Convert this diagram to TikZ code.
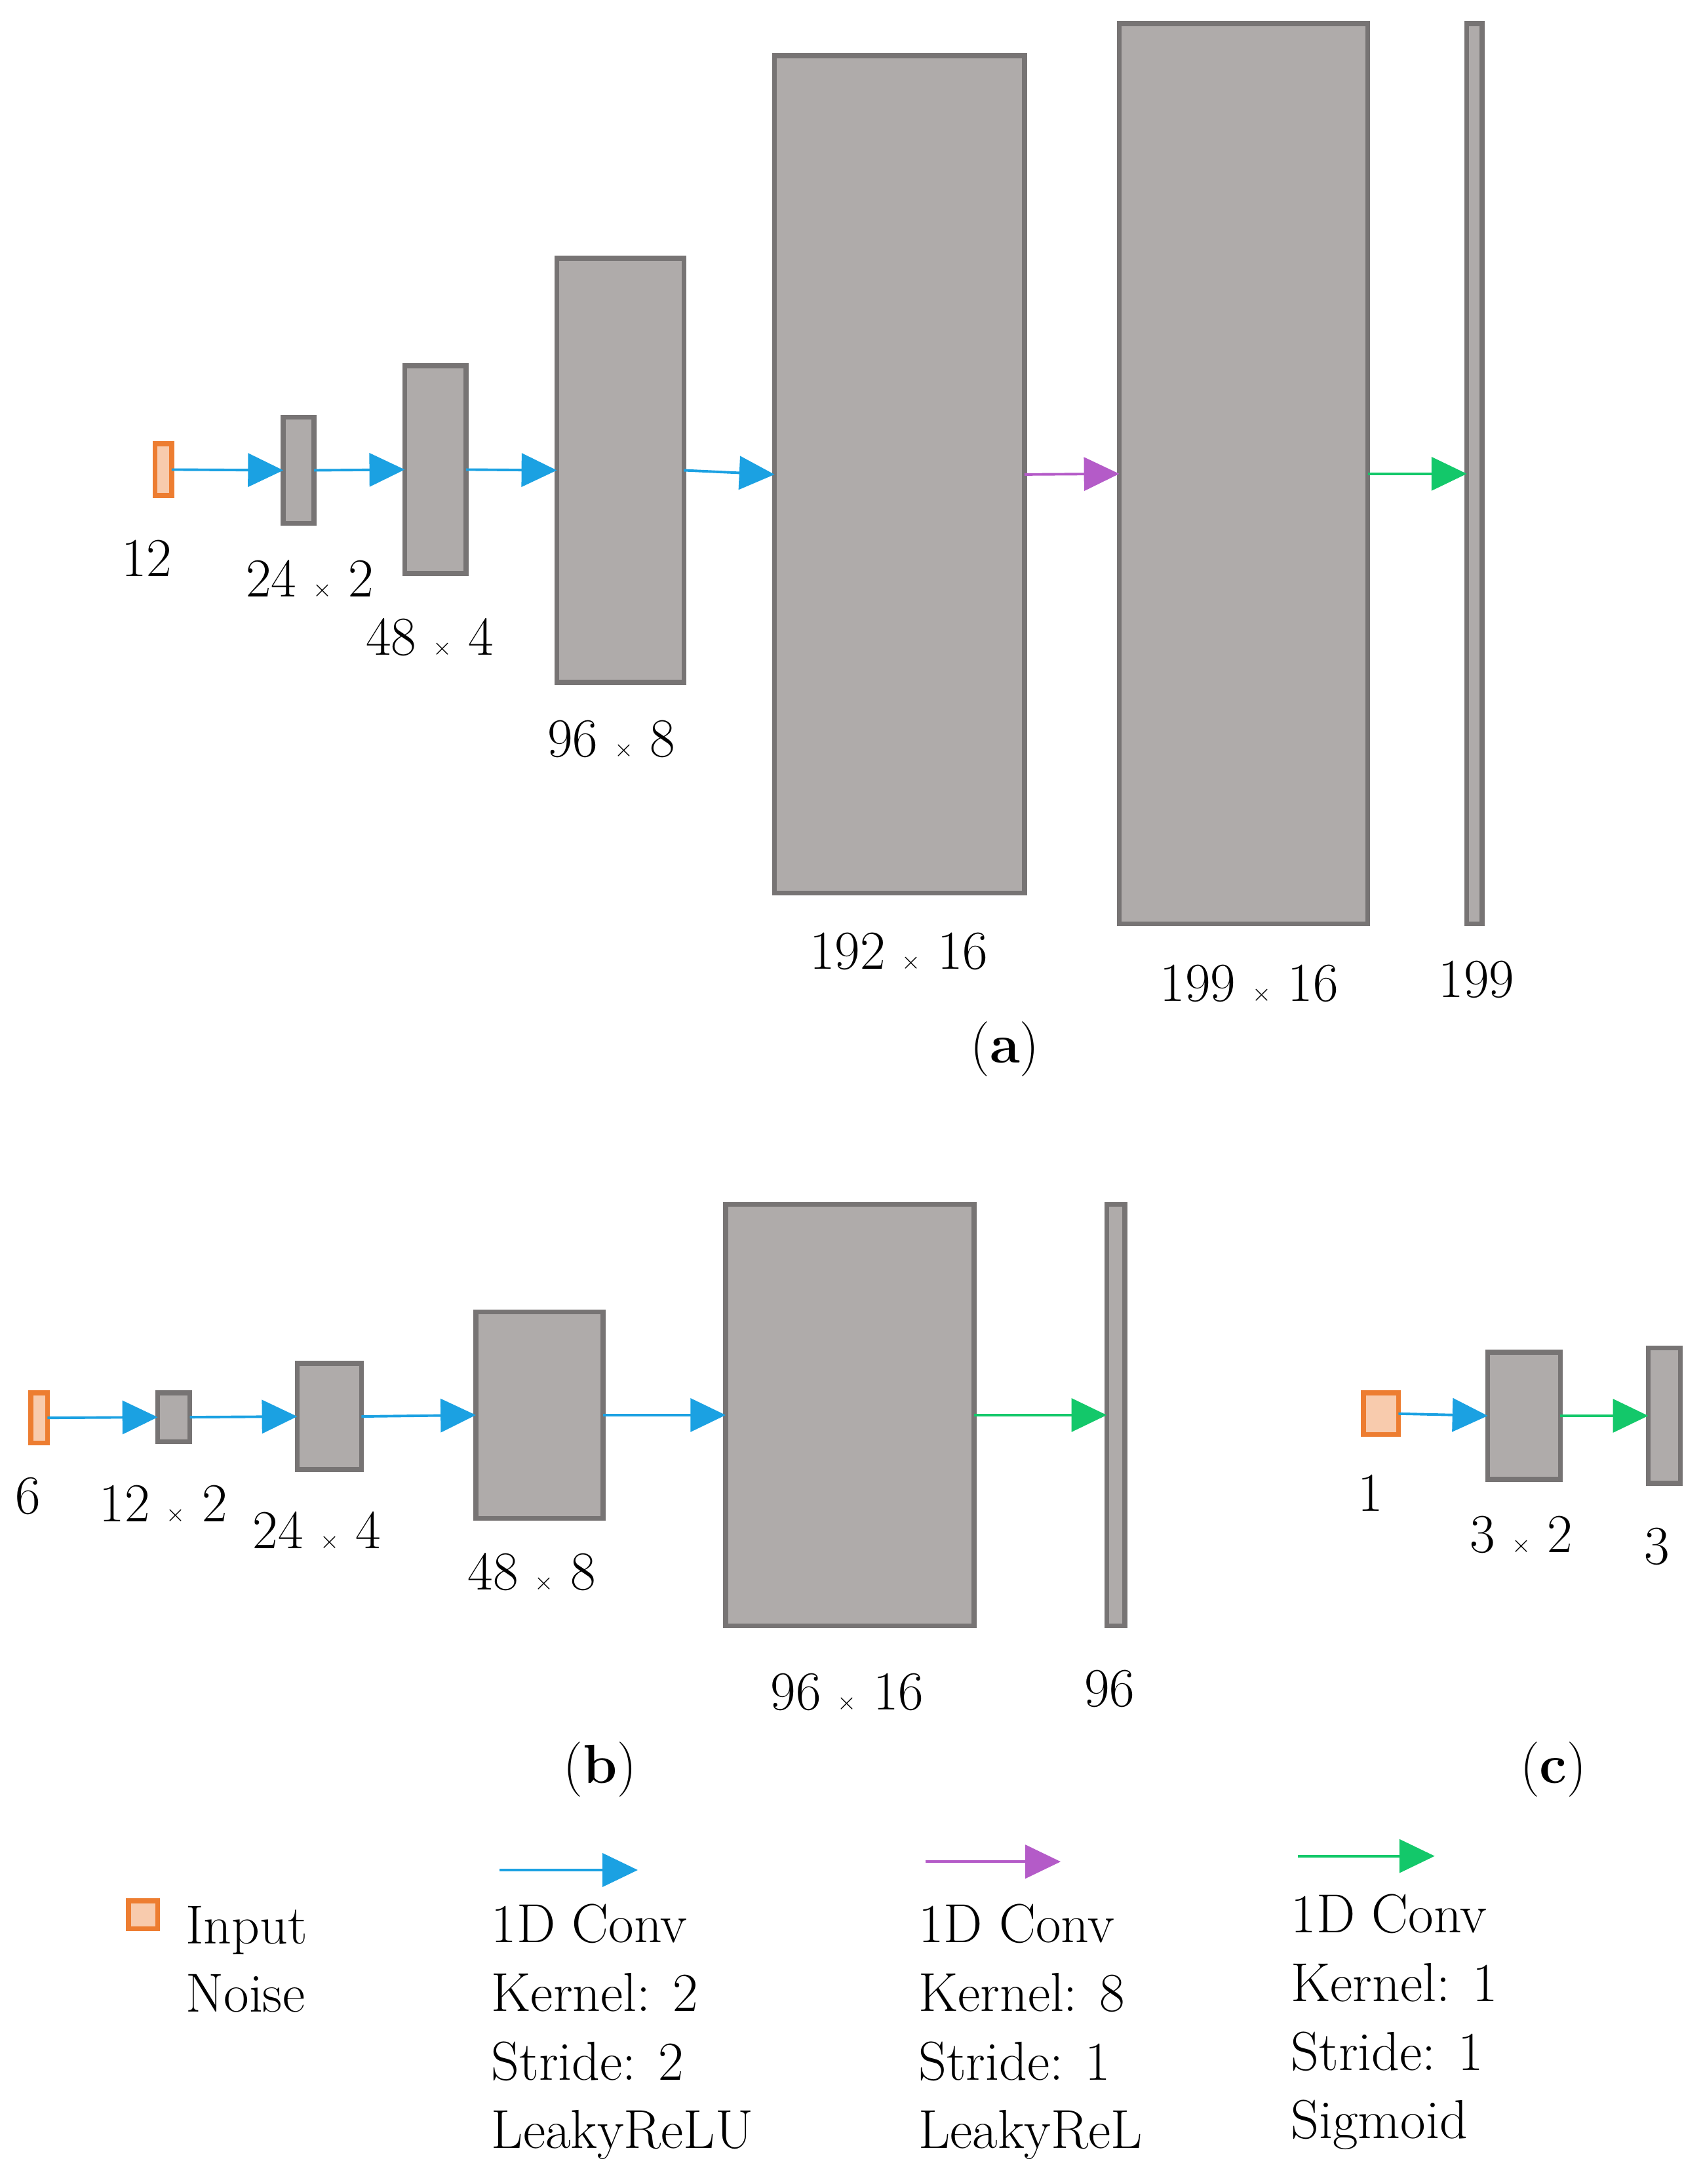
\documentclass[tikz,border=0pt]{standalone}
\usetikzlibrary{arrows.meta}
\definecolor{bfill}{HTML}{AFABAA}
\definecolor{bdraw}{HTML}{777474}
\definecolor{ofill}{HTML}{F8CBAD}
\definecolor{odraw}{HTML}{ED7D31}
\definecolor{cblue}{HTML}{1BA1E2}
\definecolor{cpurp}{HTML}{B45BC8}
\definecolor{cgreen}{HTML}{13C86A}
\newcommand{\bx}[6]{\node[#6,minimum width={(#4-#2)*0.05cm},minimum height={(#5-#3)*0.05cm}] (#1) at ({(#2+#4)/2},{(#3+#5)/2}) {};}
\begin{document}
\begin{tikzpicture}[x=0.05cm,y=-0.05cm,
  gbox/.style={draw=bdraw,fill=bfill,line width=5pt,inner sep=0pt,outer sep=0pt},
  obox/.style={draw=odraw,fill=ofill,line width=5pt,inner sep=0pt,outer sep=0pt},
  arr/.style={line width=2.6pt,-{Triangle[length=36pt,width=34pt]}},
  lab/.style={font=\fontsize{56}{66}\selectfont,inner sep=0pt},
  leg/.style={font=\fontsize{56}{70}\selectfont,inner sep=0pt,anchor=west,align=left}]
\useasboundingbox (0,0) rectangle (1220,1565);
% (a)
\bx{a0}{111}{318}{123}{355}{obox}
\bx{a1}{203}{299}{225}{375}{gbox}
\bx{a2}{290}{262}{334}{411}{gbox}
\bx{a3}{399}{185}{490}{489}{gbox}
\bx{a4}{555}{40}{734}{640}{gbox}
\bx{a5}{802}{17}{980}{662}{gbox}
\bx{a6}{1051}{17}{1062}{662}{gbox}
\draw[arr,cblue] (a0.east) -- (a1.west);
\draw[arr,cblue] (a1.east) -- (a2.west);
\draw[arr,cblue] (a2.east) -- (a3.west);
\draw[arr,cblue] (a3.east) -- (a4.west);
\draw[arr,cpurp] (a4.east) -- (a5.west);
\draw[arr,cgreen] (a5.east) -- (a6.west);
\node[lab] (la0) at (105,400) {12};
\node[lab] (la1) at (222,415) {24 $\times$ 2};
\node[lab] (la2) at (308,457) {48 $\times$ 4};
\node[lab] (la3) at (438,530) {96 $\times$ 8};
\node[lab] (la4) at (644,682) {192 $\times$ 16};
\node[lab] (la5) at (895,705) {199 $\times$ 16};
\node[lab] (la6) at (1058,702) {199};
\node[lab] (capa) at (720,752) {(\textbf{a})};
% (b)
\bx{b0}{22}{998}{34}{1034}{obox}
\bx{b1}{113}{998}{136}{1033}{gbox}
\bx{b2}{213}{977}{259}{1053}{gbox}
\bx{b3}{341}{940}{432}{1088}{gbox}
\bx{b4}{520}{863}{698}{1165}{gbox}
\bx{b5}{793}{863}{806}{1165}{gbox}
\draw[arr,cblue] (b0.east) -- (b1.west);
\draw[arr,cblue] (b1.east) -- (b2.west);
\draw[arr,cblue] (b2.east) -- (b3.west);
\draw[arr,cblue] (b3.east) -- (b4.west);
\draw[arr,cgreen] (b4.east) -- (b5.west);
\node[lab] (lb0) at (20,1072) {6};
\node[lab] (lb1) at (117,1078) {12 $\times$ 2};
\node[lab] (lb2) at (227,1097) {24 $\times$ 4};
\node[lab] (lb3) at (381,1127) {48 $\times$ 8};
\node[lab] (lb4) at (607,1213) {96 $\times$ 16};
\node[lab] (lb5) at (795,1210) {96};
\node[lab] (capb) at (430,1268) {(\textbf{b})};
% (c)
\bx{c0}{977}{998}{1002}{1028}{obox}
\bx{c1}{1066}{969}{1118}{1060}{gbox}
\bx{c2}{1181}{966}{1204}{1063}{gbox}
\draw[arr,cblue] (c0.east) -- (c1.west);
\draw[arr,cgreen] (c1.east) -- (c2.west);
\node[lab] (lc0) at (982,1070) {1};
\node[lab] (lc1) at (1090,1100) {3 $\times$ 2};
\node[lab] (lc2) at (1187,1108) {3};
\node[lab] (capc) at (1113,1268) {(\textbf{c})};
% legend
\bx{lo}{92}{1362}{113}{1382}{obox}
\node[leg] (t0) at (133,1404) {Input\\Noise};
\coordinate (p1) at (358,1340); \coordinate (q1) at (457,1340);
\draw[arr,cblue] (p1) -- (q1);
\node[leg] (t1) at (352,1456) {1D Conv\\Kernel: 2\\Stride: 2\\LeakyReLU};
\coordinate (p2) at (663,1334); \coordinate (q2) at (760,1334);
\draw[arr,cpurp] (p2) -- (q2);
\node[leg] (t2) at (658,1456) {1D Conv\\Kernel: 8\\Stride: 1\\LeakyReL};
\coordinate (p3) at (930,1330); \coordinate (q3) at (1028,1330);
\draw[arr,cgreen] (p3) -- (q3);
\node[leg] (t3) at (925,1449) {1D Conv\\Kernel: 1\\Stride: 1\\Sigmoid};
\end{tikzpicture}
\end{document}
